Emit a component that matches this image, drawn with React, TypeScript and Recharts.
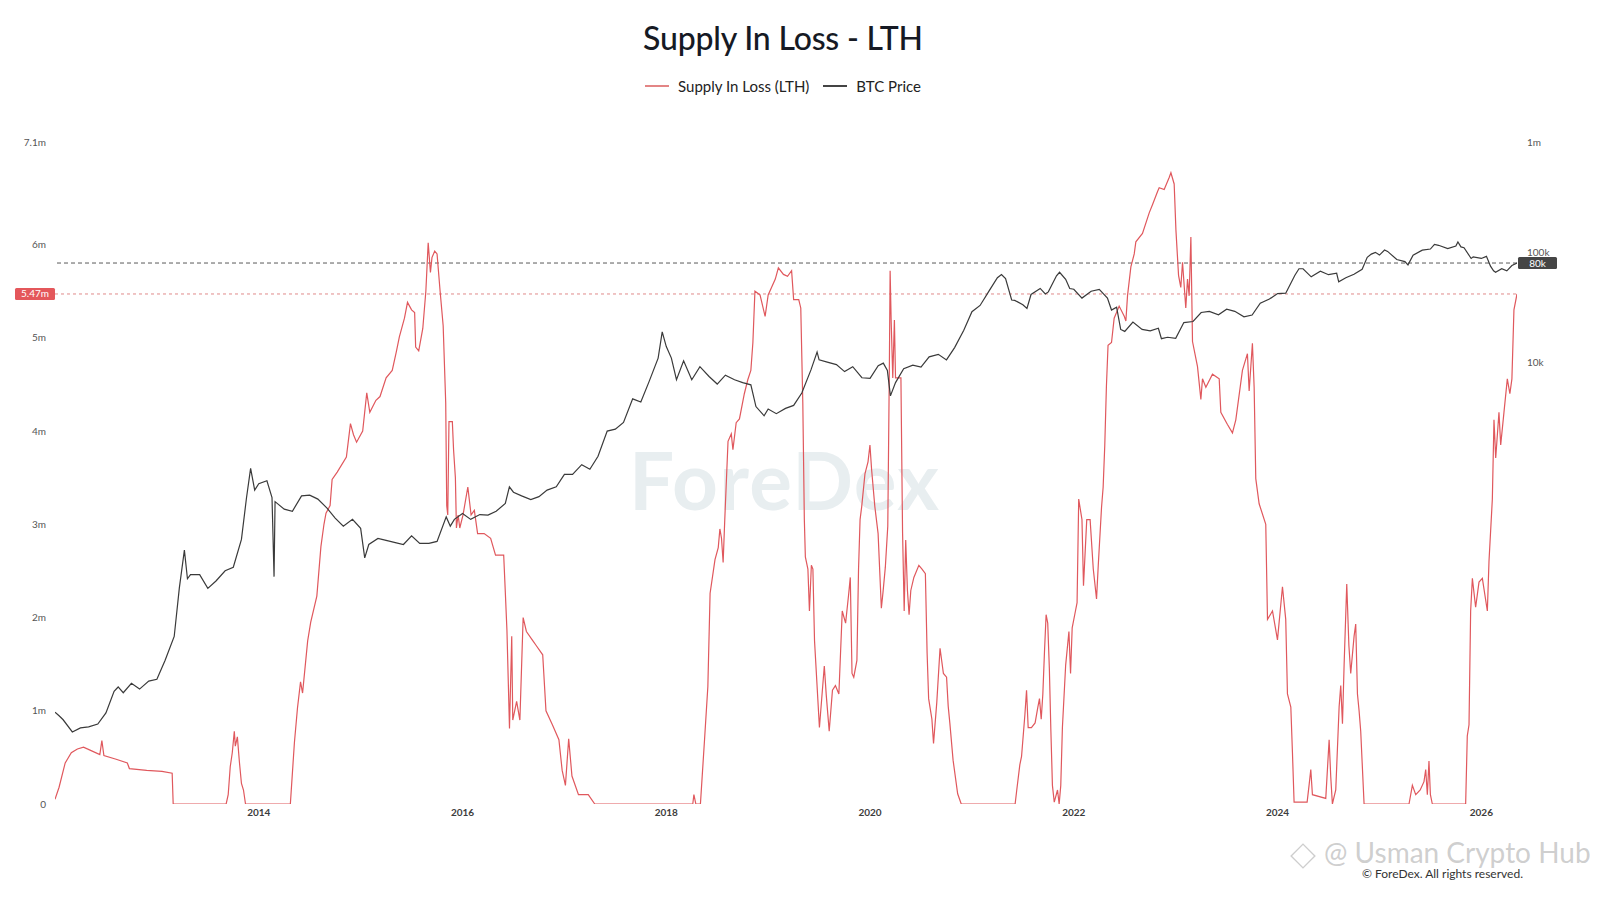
import React from 'react';
import { LineChart, Line, XAxis, YAxis, ReferenceLine } from 'recharts';

// ---- Supply In Loss (LTH), millions of BTC, time in decimal years ----
const supplyT = [
  2012.00, 2012.04, 2012.10, 2012.16, 2012.22, 2012.28, 2012.36, 2012.44, 2012.46, 2012.48,
  2012.60, 2012.71, 2012.73, 2012.90, 2013.05, 2013.15, 2013.16, 2013.68, 2013.70, 2013.72,
  2013.74, 2013.76, 2013.77, 2013.79, 2013.81, 2013.83, 2013.85, 2013.87, 2014.31, 2014.35,
  2014.38, 2014.41, 2014.43, 2014.48, 2014.51, 2014.57, 2014.61, 2014.64, 2014.66, 2014.70,
  2014.72, 2014.77, 2014.86, 2014.90, 2014.93, 2014.96, 2015.02, 2015.06, 2015.09, 2015.15,
  2015.19, 2015.25, 2015.31, 2015.35, 2015.38, 2015.43, 2015.46, 2015.50, 2015.53, 2015.54,
  2015.57, 2015.61, 2015.64, 2015.663, 2015.685, 2015.70, 2015.727, 2015.75, 2015.78, 2015.81,
  2015.835, 2015.845, 2015.855, 2015.867, 2015.90, 2015.912, 2015.93, 2015.94, 2015.957, 2015.973,
  2016.005, 2016.052, 2016.084, 2016.116, 2016.148, 2016.212, 2016.276, 2016.324, 2016.404, 2016.42,
  2016.436, 2016.461, 2016.483, 2016.493, 2016.531, 2016.563, 2016.595, 2016.627, 2016.691, 2016.723,
  2016.787, 2016.819, 2016.882, 2016.946, 2016.978, 2017.01, 2017.042, 2017.074, 2017.138, 2017.234,
  2017.298, 2018.26, 2018.271, 2018.29, 2018.335, 2018.376, 2018.408, 2018.43, 2018.478, 2018.51,
  2018.526, 2018.542, 2018.558, 2018.574, 2018.606, 2018.638, 2018.654, 2018.686, 2018.718, 2018.766,
  2018.80, 2018.83, 2018.85, 2018.87, 2018.92, 2018.97, 2019.00, 2019.07, 2019.10, 2019.15,
  2019.19, 2019.23, 2019.25, 2019.30, 2019.32, 2019.34, 2019.355, 2019.365, 2019.39, 2019.405,
  2019.424, 2019.439, 2019.455, 2019.503, 2019.551, 2019.57, 2019.599, 2019.631, 2019.66, 2019.694,
  2019.727, 2019.76, 2019.79, 2019.806, 2019.823, 2019.84, 2019.871, 2019.887, 2019.902, 2019.918,
  2019.95, 2019.98, 2019.999, 2020.015, 2020.047, 2020.079, 2020.111, 2020.127, 2020.15, 2020.174,
  2020.19, 2020.197, 2020.207, 2020.223, 2020.239, 2020.25, 2020.27, 2020.303, 2020.319, 2020.335,
  2020.35, 2020.367, 2020.383, 2020.40, 2020.43, 2020.479, 2020.51, 2020.543, 2020.56, 2020.575,
  2020.607, 2020.623, 2020.655, 2020.687, 2020.72, 2020.751, 2020.767, 2020.783, 2020.815, 2020.86,
  2020.895, 2021.424, 2021.44, 2021.47, 2021.487, 2021.52, 2021.536, 2021.552, 2021.584, 2021.62,
  2021.647, 2021.663, 2021.68, 2021.696, 2021.712, 2021.728, 2021.744, 2021.76, 2021.775, 2021.79,
  2021.808, 2021.84, 2021.856, 2021.872, 2021.888, 2021.92, 2021.952, 2021.968, 2021.984, 2022.016,
  2022.032, 2022.048, 2022.08, 2022.095, 2022.127, 2022.16, 2022.191, 2022.223, 2022.24, 2022.272,
  2022.288, 2022.304, 2022.32, 2022.336, 2022.37, 2022.396, 2022.445, 2022.495, 2022.511, 2022.527,
  2022.56, 2022.593, 2022.609, 2022.674, 2022.74, 2022.773, 2022.822, 2022.838, 2022.887, 2022.936,
  2022.953, 2022.985, 2023.002, 2023.028, 2023.05, 2023.067, 2023.099, 2023.116, 2023.132, 2023.149,
  2023.165, 2023.214, 2023.247, 2023.263, 2023.296, 2023.361, 2023.427, 2023.443, 2023.508, 2023.557,
  2023.59, 2023.655, 2023.704, 2023.721, 2023.753, 2023.77, 2023.786, 2023.819, 2023.884, 2023.901,
  2023.95, 2023.999, 2024.048, 2024.08, 2024.097, 2024.13, 2024.146, 2024.162, 2024.29, 2024.309,
  2024.326, 2024.342, 2024.473, 2024.506, 2024.522, 2024.538, 2024.571, 2024.604, 2024.62, 2024.637,
  2024.653, 2024.679, 2024.70, 2024.718, 2024.751, 2024.767, 2024.784, 2024.80, 2024.816, 2024.849,
  2025.29, 2025.323, 2025.356, 2025.40, 2025.437, 2025.454, 2025.47, 2025.486, 2025.50, 2025.519,
  2025.846, 2025.862, 2025.879, 2025.895, 2025.912, 2025.944, 2025.977, 2026.01, 2026.059, 2026.075,
  2026.108, 2026.124, 2026.141, 2026.173, 2026.19, 2026.222, 2026.255, 2026.28, 2026.30, 2026.32,
  2026.35,
];
const supplyLoss = [
  0.05, 0.18, 0.44, 0.55, 0.59, 0.61, 0.57, 0.53, 0.68, 0.52,
  0.48, 0.44, 0.38, 0.36, 0.35, 0.33, 0, 0, 0.1, 0.4,
  0.55, 0.78, 0.62, 0.72, 0.45, 0.22, 0.15, 0, 0, 0.66,
  1.03, 1.31, 1.19, 1.75, 1.95, 2.23, 2.76, 3.0, 3.12, 3.2,
  3.48, 3.56, 3.72, 4.08, 3.96, 3.88, 4.0, 4.41, 4.2, 4.33,
  4.37, 4.57, 4.65, 4.85, 5.01, 5.21, 5.38, 5.3, 5.27, 4.9,
  4.86, 5.1, 5.5, 6.02, 5.7, 5.86, 5.93, 5.9, 5.5, 5.13,
  4.3, 3.2, 3.1, 4.1, 4.1, 3.8, 3.5, 2.96, 3.1, 2.96,
  3.1, 3.4, 3.1, 3.15, 2.9, 2.9, 2.85, 2.67, 2.67, 2.27,
  1.86, 0.81, 1.8, 0.9, 1.1, 0.9, 2.0, 1.85, 1.75, 1.7,
  1.6, 1.0, 0.85, 0.69, 0.36, 0.2, 0.7, 0.3, 0.1, 0.1,
  0, 0, 0.1, 0, 0, 0.7, 1.26, 2.26, 2.62, 2.75,
  2.95, 2.85, 2.59, 3.05, 3.89, 3.97, 3.8, 4.09, 4.13, 4.4,
  4.55, 4.65, 4.95, 5.5, 5.46, 5.23, 5.46, 5.63, 5.75, 5.68,
  5.66, 5.72, 5.41, 5.41, 5.32, 4.3, 3.05, 2.65, 2.52, 2.07,
  2.56, 2.52, 1.75, 0.82, 1.48, 1.17, 0.78, 1.22, 1.27, 1.18,
  2.07, 1.94, 2.25, 2.43, 1.4, 1.36, 1.54, 2.52, 3.05, 3.19,
  3.54, 3.67, 3.85, 3.59, 3.19, 2.9, 2.1, 2.27, 2.54, 2.98,
  4.74, 5.72, 5.19, 4.57, 5.19, 4.57, 4.57, 4.57, 2.92, 2.07,
  2.83, 2.29, 2.03, 2.29, 2.43, 2.56, 2.52, 2.47, 1.62, 1.13,
  0.91, 0.65, 1.09, 1.67, 1.4, 1.36, 1.05, 0.87, 0.47, 0.11,
  0, 0, 0.15, 0.42, 0.51, 0.96, 1.22, 0.82, 0.82, 0.87,
  1.04, 1.13, 0.91, 1.18, 1.63, 2.03, 1.94, 1.45, 0.78, 0.2,
  0.02, 0.15, 0, 0.2, 0.82, 1.49, 1.85, 1.4, 1.89, 2.07,
  2.16, 3.27, 3.05, 2.34, 3.05, 3.05, 2.52, 2.2, 2.56, 3.18,
  3.4, 3.85, 4.48, 4.92, 4.95, 5.21, 5.34, 5.23, 5.18, 5.45,
  5.76, 5.9, 6.03, 6.12, 6.34, 6.43, 6.57, 6.61, 6.59, 6.72,
  6.77, 6.65, 6.16, 5.67, 5.54, 5.81, 5.32, 5.63, 5.45, 6.08,
  4.96, 4.69, 4.34, 4.56, 4.47, 4.61, 4.56, 4.2, 4.07, 3.98,
  4.12, 4.65, 4.83, 4.43, 4.94, 4.47, 3.49, 3.22, 3.0, 1.98,
  2.07, 1.76, 2.33, 1.98, 1.18, 1.04, 0.55, 0.02, 0.02, 0.2,
  0.37, 0.1, 0.06, 0.69, 0.29, 0, 0.15, 1.04, 1.27, 0.86,
  1.49, 2.36, 1.7, 1.4, 1.8, 1.93, 1.18, 1.0, 0.78, 0,
  0, 0.2, 0.1, 0.15, 0.24, 0.37, 0.1, 0.46, 0.1, 0,
  0, 0.73, 0.85, 2.07, 2.42, 2.11, 2.38, 2.42, 2.07, 2.6,
  3.27, 4.12, 3.71, 4.2, 3.85, 4.2, 4.56, 4.4, 4.56, 5.3,
  5.47,
];

// ---- BTC Price (USD), time in decimal years ----
const btcT = [
  2012.00, 2012.04, 2012.08, 2012.17, 2012.25, 2012.33, 2012.42, 2012.50, 2012.58, 2012.62,
  2012.67, 2012.75, 2012.83, 2012.92, 2013.00, 2013.08, 2013.17, 2013.22, 2013.27, 2013.30,
  2013.33, 2013.42, 2013.50, 2013.58, 2013.67, 2013.75, 2013.83, 2013.88, 2013.92, 2013.96,
  2014.00, 2014.08, 2014.13, 2014.15, 2014.16, 2014.25, 2014.33, 2014.42, 2014.50, 2014.58,
  2014.67, 2014.75, 2014.83, 2014.92, 2015.00, 2015.04, 2015.08, 2015.17, 2015.25, 2015.33,
  2015.42, 2015.50, 2015.58, 2015.67, 2015.75, 2015.84, 2015.88, 2015.92, 2016.00, 2016.08,
  2016.17, 2016.25, 2016.33, 2016.42, 2016.46, 2016.50, 2016.58, 2016.67, 2016.75, 2016.83,
  2016.92, 2017.00, 2017.08, 2017.17, 2017.25, 2017.33, 2017.42, 2017.50, 2017.58, 2017.67,
  2017.75, 2017.83, 2017.92, 2017.96, 2018.00, 2018.05, 2018.10, 2018.17, 2018.25, 2018.33,
  2018.42, 2018.50, 2018.58, 2018.67, 2018.75, 2018.83, 2018.88, 2018.96, 2019.00, 2019.08,
  2019.17, 2019.25, 2019.33, 2019.42, 2019.48, 2019.50, 2019.58, 2019.67, 2019.75, 2019.83,
  2019.92, 2020.00, 2020.08, 2020.13, 2020.17, 2020.20, 2020.25, 2020.33, 2020.42, 2020.50,
  2020.58, 2020.67, 2020.75, 2020.83, 2020.92, 2021.00, 2021.08, 2021.17, 2021.25, 2021.29,
  2021.33, 2021.39, 2021.42, 2021.50, 2021.54, 2021.58, 2021.67, 2021.72, 2021.75, 2021.83,
  2021.86, 2021.92, 2021.96, 2022.00, 2022.08, 2022.17, 2022.25, 2022.33, 2022.37, 2022.42,
  2022.46, 2022.50, 2022.58, 2022.67, 2022.75, 2022.83, 2022.86, 2022.92, 2023.00, 2023.08,
  2023.17, 2023.25, 2023.33, 2023.42, 2023.50, 2023.58, 2023.67, 2023.75, 2023.83, 2023.92,
  2024.00, 2024.08, 2024.17, 2024.21, 2024.25, 2024.33, 2024.42, 2024.50, 2024.58, 2024.60,
  2024.67, 2024.75, 2024.83, 2024.88, 2024.92, 2024.96, 2025.00, 2025.05, 2025.08, 2025.17,
  2025.25, 2025.28, 2025.33, 2025.42, 2025.50, 2025.54, 2025.58, 2025.67, 2025.75, 2025.77,
  2025.80, 2025.83, 2025.90, 2025.92, 2026.00, 2026.05, 2026.09, 2026.12, 2026.14, 2026.20,
  2026.25, 2026.30, 2026.35,
];
const btcPrice = [
  6.8, 6.3, 5.8, 4.5, 4.9, 5.0, 5.3, 6.7, 10.5, 11.5,
  10.2, 12.4, 11.0, 13.0, 13.5, 20, 33, 90, 200, 110,
  120, 120, 90, 105, 130, 140, 250, 600, 1100, 700,
  800, 850, 600, 115, 550, 470, 450, 620, 630, 580,
  480, 390, 330, 380, 315, 170, 225, 255, 245, 235,
  225, 270, 230, 230, 240, 400, 330, 380, 430, 380,
  420, 415, 450, 530, 750, 670, 620, 575, 610, 700,
  750, 970, 970, 1190, 1080, 1420, 2400, 2500, 2870, 4700,
  4400, 6700, 11000, 19000, 14000, 11000, 7000, 10400, 7000, 9200,
  7500, 6400, 7700, 7000, 6600, 6300, 4000, 3300, 3800, 3450,
  3850, 4100, 5300, 8600, 12500, 10600, 10100, 9600, 8300, 9200,
  7300, 7200, 9400, 9900, 8500, 5000, 6600, 8800, 9500, 9100,
  11300, 11900, 10600, 13700, 19700, 29000, 33000, 45000, 58800, 63000,
  57700, 37000, 36700, 33500, 31000, 41500, 47100, 42000, 43800, 61300,
  66000, 57000, 47000, 46300, 38500, 44400, 46200, 38500, 30000, 31800,
  20000, 19200, 23300, 20000, 19400, 20500, 16500, 17000, 16600, 23100,
  23600, 28500, 29200, 27200, 30500, 29200, 26000, 27000, 34600, 37700,
  42300, 42600, 62000, 71000, 71000, 60000, 67500, 62700, 64600, 54000,
  58900, 63300, 70200, 90000, 96400, 100000, 94400, 105000, 102000, 86000,
  82500, 77000, 94200, 104600, 107100, 118000, 115800, 108200, 114000, 124000,
  112000, 110000, 88000, 91000, 88000, 92000, 75000, 68000, 66000, 71000,
  68000, 76000, 80000,
];

const yearTicks = [2014, 2016, 2018, 2020, 2022, 2024, 2026];
const supplyTicks = [0, 1, 2, 3, 4, 5, 6, 7.1];
const priceTicks = [10000, 100000, 1000000];
const latestSupply = 5.47;
const latestPrice = 80000;

const supplyData = supplyT.map((t, i) => ({ t, v: supplyLoss[i] }));
const btcData = btcT.map((t, i) => ({ t, p: btcPrice[i] }));

const RED = '#e0585d';
const DARK = '#3a3a3a';
const FONT = 'Lato, "Noto Sans", sans-serif';

const fmtSupply = (v: number) => (v === 0 ? '0' : `${v}m`);
const fmtPrice = (v: number) => (v >= 1000000 ? `${v / 1000000}m` : v >= 1000 ? `${v / 1000}k` : `${v}`);

const PriceTag = (props: any) => {
  const vb = props.viewBox || {};
  const x = vb.x + vb.width + 1;
  const y = vb.y;
  return (
    <g>
      <rect x={x} y={y - 6} width={39} height={12} rx={1.5} fill="#454545" />
      <text x={x + 19.5} y={y + 3.5} textAnchor="middle" fontSize={10} fill="#fff" fontFamily={FONT}>
        {fmtPrice(latestPrice)}
      </text>
    </g>
  );
};

const SupplyTag = (props: any) => {
  const vb = props.viewBox || {};
  const x = vb.x - 40;
  const y = vb.y;
  return (
    <g>
      <rect x={x} y={y - 6} width={40} height={12} rx={1.5} fill="#e4575b" />
      <text x={x + 20} y={y + 3.5} textAnchor="middle" fontSize={10} fill="#fff" fontFamily={FONT}>
        {`${latestSupply}m`}
      </text>
    </g>
  );
};

const LegendItem = ({ color, label }: { color: string; label: string }) => (
  <span style={{ display: 'inline-flex', alignItems: 'center', marginRight: 14 }}>
    <span style={{ display: 'inline-block', width: 24, height: 2, background: color, marginRight: 9 }} />
    <span>{label}</span>
  </span>
);

export default function App() {
  return (
    <div style={{ position: 'absolute', left: 0, top: 0, width: 1600, height: 906, background: '#fff', fontFamily: FONT, overflow: 'hidden' }}>
      <div style={{ position: 'absolute', top: 18, left: 0, width: 1566, textAlign: 'center', fontSize: 32, fontWeight: 500, color: '#161a24', letterSpacing: -0.2 }}>
        Supply In Loss - LTH
      </div>
      <div style={{ position: 'absolute', top: 72, left: 0, width: 1580, textAlign: 'center', fontSize: 15, color: '#222' }}>
        <LegendItem color="#e38585" label="Supply In Loss (LTH)" />
        <LegendItem color="#444" label="BTC Price" />
      </div>
      <div style={{ position: 'absolute', left: 0, top: 0 }}>
        <LineChart width={1600} height={906} margin={{ top: 142, right: 0, bottom: 72, left: 8 }}>
          <text x={784} y={510} textAnchor="middle" fontSize={80} fontWeight={700} fill="#e8eef0" fontFamily={FONT} textLength={310}>
            ForeDex
          </text>
          <XAxis
            dataKey="t"
            type="number"
            domain={[2012, 2026.35]}
            ticks={yearTicks}
            allowDataOverflow
            axisLine={false}
            tickLine={false}
            tickSize={0}
            tickMargin={5}
            height={30}
            tick={{ fontSize: 10, fontWeight: 700, fill: '#3d3d3d', fontFamily: FONT }}
          />
          <YAxis
            yAxisId="left"
            type="number"
            domain={[0, 7.1]}
            ticks={supplyTicks}
            tickFormatter={fmtSupply}
            axisLine={false}
            tickLine={false}
            tickSize={0}
            tickMargin={9}
            width={47}
            tick={{ fontSize: 10, fill: '#555', fontFamily: FONT }}
            allowDataOverflow
          />
          <YAxis
            yAxisId="right"
            orientation="right"
            type="number"
            scale="log"
            domain={[1, 1000000]}
            ticks={priceTicks}
            tickFormatter={fmtPrice}
            axisLine={false}
            tickLine={false}
            tickSize={0}
            tickMargin={10}
            width={83}
            tick={{ fontSize: 10, fill: '#555', fontFamily: FONT, textAnchor: 'start' }}
            allowDataOverflow
          />
          <ReferenceLine yAxisId="right" y={latestPrice} stroke="#5a5a5a" strokeDasharray="4 3" strokeWidth={1} label={(p: any) => <PriceTag {...p} />} />
          <ReferenceLine yAxisId="left" y={latestSupply} stroke="#e08a8a" strokeDasharray="3 3" strokeWidth={1} label={(p: any) => <SupplyTag {...p} />} />
          <Line
            yAxisId="left"
            data={supplyData}
            dataKey="v"
            type="linear"
            stroke={RED}
            strokeWidth={1.2}
            dot={false}
            activeDot={false}
            isAnimationActive={false}
          />
          <Line
            yAxisId="right"
            data={btcData}
            dataKey="p"
            type="linear"
            stroke={DARK}
            strokeWidth={1.2}
            dot={false}
            activeDot={false}
            isAnimationActive={false}
          />
        </LineChart>
      </div>
      <div style={{ position: 'absolute', left: 1290, top: 838, fontSize: 28, lineHeight: '28px', color: 'rgba(165,165,165,0.55)', whiteSpace: 'nowrap' }}>
        <span style={{ display: 'inline-block', width: 22, height: 22, border: '2px solid rgba(165,165,165,0.55)', transform: 'rotate(45deg) scale(0.7)', marginRight: 8, verticalAlign: 'middle' }} />
        @ Usman Crypto Hub
      </div>
      <div style={{ position: 'absolute', left: 1362, top: 868, fontSize: 12, lineHeight: '12px', color: '#333', whiteSpace: 'nowrap' }}>
        © ForeDex. All rights reserved.
      </div>
    </div>
  );
}
